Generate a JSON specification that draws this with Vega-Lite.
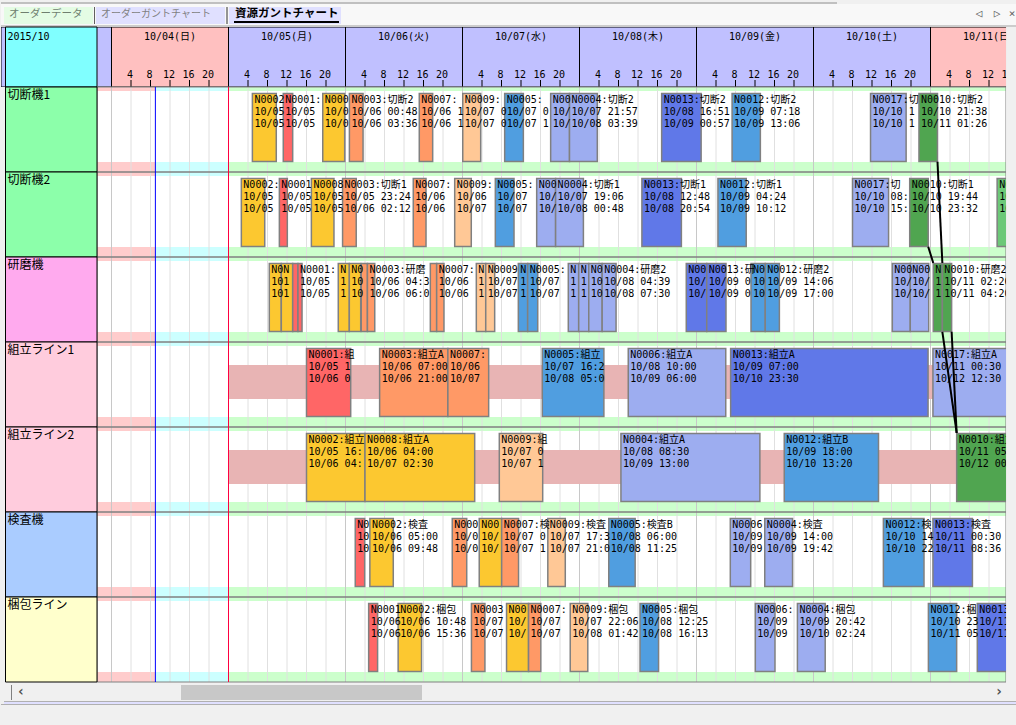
{
  "$schema": "https://vega.github.io/schema/vega-lite/v6.json",
  "padding": 0,
  "spacing": 0,
  "bounds": "flush",
  "background": "#f0f0f0",
  "config": {
    "view": {"stroke": null},
    "axis": {"disable": true},
    "legend": {"disable": true},
    "text": {"font": "DejaVu Sans Mono, Noto Sans CJK JP", "fontSize": 10, "color": "#000000"}
  },
  "datasets": {
    "lanes": [
      {"resource": "切断機1"}, {"resource": "切断機2"}, {"resource": "研磨機"}, {"resource": "組立ライン1"},
      {"resource": "組立ライン2"}, {"resource": "検査機"}, {"resource": "梱包ライン"}
    ],
    "assembly": [{"resource": "組立ライン1"}, {"resource": "組立ライン2"}],
    "calendar": [
      {"resource": "切断機1", "kind": "holiday", "from": "2015-10-03T21:01:33", "to": "2015-10-04T09:00"},
      {"resource": "切断機1", "kind": "off", "from": "2015-10-04T09:00", "to": "2015-10-05T00:00"},
      {"resource": "切断機1", "kind": "work", "from": "2015-10-05T00:00", "to": "2015-10-11T15:29:14"},
      {"resource": "切断機2", "kind": "holiday", "from": "2015-10-03T21:01:33", "to": "2015-10-04T09:00"},
      {"resource": "切断機2", "kind": "off", "from": "2015-10-04T09:00", "to": "2015-10-05T00:00"},
      {"resource": "切断機2", "kind": "work", "from": "2015-10-05T00:00", "to": "2015-10-11T15:29:14"},
      {"resource": "研磨機", "kind": "holiday", "from": "2015-10-03T21:01:33", "to": "2015-10-04T09:00"},
      {"resource": "研磨機", "kind": "off", "from": "2015-10-04T09:00", "to": "2015-10-05T00:00"},
      {"resource": "研磨機", "kind": "work", "from": "2015-10-05T00:00", "to": "2015-10-11T15:29:14"},
      {"resource": "組立ライン1", "kind": "holiday", "from": "2015-10-03T21:01:33", "to": "2015-10-04T09:00"},
      {"resource": "組立ライン1", "kind": "off", "from": "2015-10-04T09:00", "to": "2015-10-05T00:00"},
      {"resource": "組立ライン1", "kind": "work", "from": "2015-10-05T00:00", "to": "2015-10-11T15:29:14"},
      {"resource": "組立ライン2", "kind": "holiday", "from": "2015-10-03T21:01:33", "to": "2015-10-04T09:00"},
      {"resource": "組立ライン2", "kind": "off", "from": "2015-10-04T09:00", "to": "2015-10-05T00:00"},
      {"resource": "組立ライン2", "kind": "work", "from": "2015-10-05T00:00", "to": "2015-10-11T15:29:14"},
      {"resource": "検査機", "kind": "holiday", "from": "2015-10-03T21:01:33", "to": "2015-10-04T09:00"},
      {"resource": "検査機", "kind": "off", "from": "2015-10-04T09:00", "to": "2015-10-05T00:00"},
      {"resource": "検査機", "kind": "work", "from": "2015-10-05T00:00", "to": "2015-10-11T15:29:14"},
      {"resource": "梱包ライン", "kind": "holiday", "from": "2015-10-03T21:01:33", "to": "2015-10-04T09:00"},
      {"resource": "梱包ライン", "kind": "off", "from": "2015-10-04T09:00", "to": "2015-10-05T00:00"},
      {"resource": "梱包ライン", "kind": "work", "from": "2015-10-05T00:00", "to": "2015-10-11T15:29:14"}
    ],
    "days": [
      {"from": "2015-10-03T01:20:00", "to": "2015-10-04T00:00", "noon": "2015-10-03T12:00", "label": "", "kind": "weekday"},
      {"from": "2015-10-04T00:00", "to": "2015-10-05T00:00", "noon": "2015-10-04T12:00", "label": "10/04(日)", "kind": "sunday"},
      {"from": "2015-10-05T00:00", "to": "2015-10-06T00:00", "noon": "2015-10-05T12:00", "label": "10/05(月)", "kind": "weekday"},
      {"from": "2015-10-06T00:00", "to": "2015-10-07T00:00", "noon": "2015-10-06T12:00", "label": "10/06(火)", "kind": "weekday"},
      {"from": "2015-10-07T00:00", "to": "2015-10-08T00:00", "noon": "2015-10-07T12:00", "label": "10/07(水)", "kind": "weekday"},
      {"from": "2015-10-08T00:00", "to": "2015-10-09T00:00", "noon": "2015-10-08T12:00", "label": "10/08(木)", "kind": "weekday"},
      {"from": "2015-10-09T00:00", "to": "2015-10-10T00:00", "noon": "2015-10-09T12:00", "label": "10/09(金)", "kind": "weekday"},
      {"from": "2015-10-10T00:00", "to": "2015-10-11T00:00", "noon": "2015-10-10T12:00", "label": "10/10(土)", "kind": "weekday"},
      {"from": "2015-10-11T00:00", "to": "2015-10-12T00:00", "noon": "2015-10-11T12:00", "label": "10/11(日)", "kind": "sunday"}
    ],
    "hours": [
      {"time": "2015-10-04T04:00", "hour": "4"}, {"time": "2015-10-04T08:00", "hour": "8"}, {"time": "2015-10-04T12:00", "hour": "12"}, {"time": "2015-10-04T16:00", "hour": "16"}, {"time": "2015-10-04T20:00", "hour": "20"},
      {"time": "2015-10-05T04:00", "hour": "4"}, {"time": "2015-10-05T08:00", "hour": "8"}, {"time": "2015-10-05T12:00", "hour": "12"}, {"time": "2015-10-05T16:00", "hour": "16"}, {"time": "2015-10-05T20:00", "hour": "20"},
      {"time": "2015-10-06T04:00", "hour": "4"}, {"time": "2015-10-06T08:00", "hour": "8"}, {"time": "2015-10-06T12:00", "hour": "12"}, {"time": "2015-10-06T16:00", "hour": "16"}, {"time": "2015-10-06T20:00", "hour": "20"},
      {"time": "2015-10-07T04:00", "hour": "4"}, {"time": "2015-10-07T08:00", "hour": "8"}, {"time": "2015-10-07T12:00", "hour": "12"}, {"time": "2015-10-07T16:00", "hour": "16"}, {"time": "2015-10-07T20:00", "hour": "20"},
      {"time": "2015-10-08T04:00", "hour": "4"}, {"time": "2015-10-08T08:00", "hour": "8"}, {"time": "2015-10-08T12:00", "hour": "12"}, {"time": "2015-10-08T16:00", "hour": "16"}, {"time": "2015-10-08T20:00", "hour": "20"},
      {"time": "2015-10-09T04:00", "hour": "4"}, {"time": "2015-10-09T08:00", "hour": "8"}, {"time": "2015-10-09T12:00", "hour": "12"}, {"time": "2015-10-09T16:00", "hour": "16"}, {"time": "2015-10-09T20:00", "hour": "20"},
      {"time": "2015-10-10T04:00", "hour": "4"}, {"time": "2015-10-10T08:00", "hour": "8"}, {"time": "2015-10-10T12:00", "hour": "12"}, {"time": "2015-10-10T16:00", "hour": "16"}, {"time": "2015-10-10T20:00", "hour": "20"},
      {"time": "2015-10-11T04:00", "hour": "4"}, {"time": "2015-10-11T08:00", "hour": "8"}, {"time": "2015-10-11T12:00", "hour": "12"}, {"time": "2015-10-11T16:00", "hour": "16"}
    ],
    "markers": [
      {"time": "2015-10-04T09:00", "kind": "start"},
      {"time": "2015-10-05T00:00", "kind": "today"}
    ],
    "links": [
      {"from": "2015-10-11T01:26", "to": "2015-10-11T02:26", "source": "切断機1", "target": "研磨機"},
      {"from": "2015-10-10T23:32", "to": "2015-10-11T00:34", "source": "切断機2", "target": "研磨機"},
      {"from": "2015-10-11T02:26", "to": "2015-10-11T05:22", "source": "研磨機", "target": "組立ライン2"},
      {"from": "2015-10-11T04:20", "to": "2015-10-11T05:22", "source": "研磨機", "target": "組立ライン2"}
    ],
    "tasks": [
      {"resource": "切断機1", "order": "N0002", "start": "2015-10-05T04:54", "end": "2015-10-05T09:48", "label": "N0002\n10/05\n10/05"},
      {"resource": "切断機1", "order": "N0001", "start": "2015-10-05T11:14", "end": "2015-10-05T13:10", "label": "N0001:\n10/05\n10/05"},
      {"resource": "切断機1", "order": "N0008", "start": "2015-10-05T19:20", "end": "2015-10-05T23:50", "label": "N000\n10/0\n10/0"},
      {"resource": "切断機1", "order": "N0003", "start": "2015-10-06T00:48", "end": "2015-10-06T03:36", "label": "N0003:切断2\n10/06 00:48\n10/06 03:36"},
      {"resource": "切断機1", "order": "N0007", "start": "2015-10-06T15:08", "end": "2015-10-06T17:53", "label": "N0007:\n10/06 1\n10/06 1"},
      {"resource": "切断機1", "order": "N0009", "start": "2015-10-07T00:03", "end": "2015-10-07T03:44", "label": "N0009:\n10/07 0\n10/07 0"},
      {"resource": "切断機1", "order": "N0005", "start": "2015-10-07T08:39", "end": "2015-10-07T12:29", "label": "N0005:\n10/07 0\n10/07 1"},
      {"resource": "切断機1", "order": "N0006", "start": "2015-10-07T18:05", "end": "2015-10-07T21:57", "label": "N00\n10/\n10/"},
      {"resource": "切断機1", "order": "N0004", "start": "2015-10-07T21:57", "end": "2015-10-08T03:39", "label": "N0004:切断2\n10/07 21:57\n10/08 03:39"},
      {"resource": "切断機1", "order": "N0013", "start": "2015-10-08T16:51", "end": "2015-10-09T00:57", "label": "N0013:切断2\n10/08 16:51\n10/09 00:57"},
      {"resource": "切断機1", "order": "N0012", "start": "2015-10-09T07:18", "end": "2015-10-09T13:06", "label": "N0012:切断2\n10/09 07:18\n10/09 13:06"},
      {"resource": "切断機1", "order": "N0017", "start": "2015-10-10T11:42", "end": "2015-10-10T19:00", "label": "N0017:切\n10/10 1\n10/10 1"},
      {"resource": "切断機1", "order": "N0010", "start": "2015-10-10T21:38", "end": "2015-10-11T01:26", "label": "N0010:切断2\n10/10 21:38\n10/11 01:26"},

      {"resource": "切断機2", "order": "N0002", "start": "2015-10-05T02:38", "end": "2015-10-05T07:26", "label": "N0002:\n10/05\n10/05"},
      {"resource": "切断機2", "order": "N0001", "start": "2015-10-05T10:26", "end": "2015-10-05T12:04", "label": "N0001\n10/05\n10/05"},
      {"resource": "切断機2", "order": "N0008", "start": "2015-10-05T17:00", "end": "2015-10-05T21:38", "label": "N0008\n10/05\n10/05"},
      {"resource": "切断機2", "order": "N0003", "start": "2015-10-05T23:24", "end": "2015-10-06T02:12", "label": "N0003:切断1\n10/05 23:24\n10/06 02:12"},
      {"resource": "切断機2", "order": "N0007", "start": "2015-10-06T13:54", "end": "2015-10-06T16:31", "label": "N0007:\n10/06\n10/06"},
      {"resource": "切断機2", "order": "N0009", "start": "2015-10-06T22:24", "end": "2015-10-07T01:48", "label": "N0009:\n10/06\n10/07"},
      {"resource": "切断機2", "order": "N0005", "start": "2015-10-07T06:44", "end": "2015-10-07T10:34", "label": "N0005:\n10/07\n10/07"},
      {"resource": "切断機2", "order": "N0006", "start": "2015-10-07T15:13", "end": "2015-10-07T19:06", "label": "N00\n10/\n10/"},
      {"resource": "切断機2", "order": "N0004", "start": "2015-10-07T19:06", "end": "2015-10-08T00:48", "label": "N0004:切断1\n10/07 19:06\n10/08 00:48"},
      {"resource": "切断機2", "order": "N0013", "start": "2015-10-08T12:48", "end": "2015-10-08T20:54", "label": "N0013:切断1\n10/08 12:48\n10/08 20:54"},
      {"resource": "切断機2", "order": "N0012", "start": "2015-10-09T04:24", "end": "2015-10-09T10:12", "label": "N0012:切断1\n10/09 04:24\n10/09 10:12"},
      {"resource": "切断機2", "order": "N0017", "start": "2015-10-10T08:00", "end": "2015-10-10T15:24", "label": "N0017:切\n10/10 08:\n10/10 15:"},
      {"resource": "切断機2", "order": "N0010", "start": "2015-10-10T19:44", "end": "2015-10-10T23:32", "label": "N0010:切断1\n10/10 19:44\n10/10 23:32"},
      {"resource": "切断機2", "order": "N0011", "start": "2015-10-11T13:40", "end": "2015-10-11T17:00", "label": "N0\n10\n10"},

      {"resource": "研磨機", "order": "N0002", "start": "2015-10-05T08:22", "end": "2015-10-05T10:50", "label": "N0\n10\n10"},
      {"resource": "研磨機", "order": "N0002", "start": "2015-10-05T10:50", "end": "2015-10-05T13:10", "label": "N\n1\n1"},
      {"resource": "研磨機", "order": "N0001", "start": "2015-10-05T13:10", "end": "2015-10-05T14:15", "label": ""},
      {"resource": "研磨機", "order": "N0001", "start": "2015-10-05T14:15", "end": "2015-10-05T15:05", "label": "N0001:\n10/05\n10/05"},
      {"resource": "研磨機", "order": "N0008", "start": "2015-10-05T22:31", "end": "2015-10-06T00:47", "label": "N\n1\n1"},
      {"resource": "研磨機", "order": "N0008", "start": "2015-10-06T00:47", "end": "2015-10-06T03:07", "label": "N0\n10\n10"},
      {"resource": "研磨機", "order": "N0003", "start": "2015-10-06T03:14", "end": "2015-10-06T04:30", "label": ""},
      {"resource": "研磨機", "order": "N0003", "start": "2015-10-06T04:30", "end": "2015-10-06T06:00", "label": "N0003:研磨\n10/06 04:3\n10/06 06:0"},
      {"resource": "研磨機", "order": "N0007", "start": "2015-10-06T17:24", "end": "2015-10-06T18:42", "label": ""},
      {"resource": "研磨機", "order": "N0007", "start": "2015-10-06T18:42", "end": "2015-10-06T20:12", "label": "N0007:\n10/06\n10/06"},
      {"resource": "研磨機", "order": "N0009", "start": "2015-10-07T02:50", "end": "2015-10-07T04:46", "label": "N\n1\n1"},
      {"resource": "研磨機", "order": "N0009", "start": "2015-10-07T04:46", "end": "2015-10-07T06:36", "label": "N0009\n10/07\n10/07"},
      {"resource": "研磨機", "order": "N0005", "start": "2015-10-07T11:27", "end": "2015-10-07T13:22", "label": "N\n1\n1"},
      {"resource": "研磨機", "order": "N0005", "start": "2015-10-07T13:22", "end": "2015-10-07T15:26", "label": "N0005:\n10/07\n10/07"},
      {"resource": "研磨機", "order": "N0006", "start": "2015-10-07T21:42", "end": "2015-10-07T23:50", "label": "N\n1\n1"},
      {"resource": "研磨機", "order": "N0006", "start": "2015-10-07T23:50", "end": "2015-10-08T01:54", "label": "N\n1\n1"},
      {"resource": "研磨機", "order": "N0004", "start": "2015-10-08T01:54", "end": "2015-10-08T04:39", "label": "N0\n10\n10"},
      {"resource": "研磨機", "order": "N0004", "start": "2015-10-08T04:39", "end": "2015-10-08T07:30", "label": "N0004:研磨2\n10/08 04:39\n10/08 07:30"},
      {"resource": "研磨機", "order": "N0013", "start": "2015-10-08T21:54", "end": "2015-10-09T02:06", "label": "N00\n10/\n10/"},
      {"resource": "研磨機", "order": "N0013", "start": "2015-10-09T02:06", "end": "2015-10-09T06:03", "label": "N0013:研\n10/09 0\n10/09 0"},
      {"resource": "研磨機", "order": "N0012", "start": "2015-10-09T11:11", "end": "2015-10-09T14:06", "label": "N0\n10\n10"},
      {"resource": "研磨機", "order": "N0012", "start": "2015-10-09T14:06", "end": "2015-10-09T17:00", "label": "N0012:研磨2\n10/09 14:06\n10/09 17:00"},
      {"resource": "研磨機", "order": "N0017", "start": "2015-10-10T16:10", "end": "2015-10-10T19:51", "label": "N00\n10/\n10/"},
      {"resource": "研磨機", "order": "N0017", "start": "2015-10-10T19:51", "end": "2015-10-10T23:38", "label": "N00\n10/\n10/"},
      {"resource": "研磨機", "order": "N0010", "start": "2015-10-11T00:34", "end": "2015-10-11T02:26", "label": "N\n1\n1"},
      {"resource": "研磨機", "order": "N0010", "start": "2015-10-11T02:26", "end": "2015-10-11T04:20", "label": "N0010:研磨2\n10/11 02:26\n10/11 04:20"},

      {"resource": "組立ライン1", "order": "N0001", "start": "2015-10-05T16:00", "end": "2015-10-06T01:04", "label": "N0001:組\n10/05 1\n10/06 0"},
      {"resource": "組立ライン1", "order": "N0003", "start": "2015-10-06T07:00", "end": "2015-10-06T21:00", "label": "N0003:組立A\n10/06 07:00\n10/06 21:00"},
      {"resource": "組立ライン1", "order": "N0007", "start": "2015-10-06T21:00", "end": "2015-10-07T05:22", "label": "N0007:\n10/06\n10/07"},
      {"resource": "組立ライン1", "order": "N0005", "start": "2015-10-07T16:22", "end": "2015-10-08T05:00", "label": "N0005:組立\n10/07 16:2\n10/08 05:0"},
      {"resource": "組立ライン1", "order": "N0006", "start": "2015-10-08T10:00", "end": "2015-10-09T06:00", "label": "N0006:組立A\n10/08 10:00\n10/09 06:00"},
      {"resource": "組立ライン1", "order": "N0013", "start": "2015-10-09T07:00", "end": "2015-10-10T23:30", "label": "N0013:組立A\n10/09 07:00\n10/10 23:30"},
      {"resource": "組立ライン1", "order": "N0017", "start": "2015-10-11T00:30", "end": "2015-10-12T12:30", "label": "N0017:組立A\n10/11 00:30\n10/12 12:30"},

      {"resource": "組立ライン2", "order": "N0002", "start": "2015-10-05T16:00", "end": "2015-10-06T04:00", "label": "N0002:組立\n10/05 16:\n10/06 04:"},
      {"resource": "組立ライン2", "order": "N0008", "start": "2015-10-06T04:00", "end": "2015-10-07T02:30", "label": "N0008:組立A\n10/06 04:00\n10/07 02:30"},
      {"resource": "組立ライン2", "order": "N0009", "start": "2015-10-07T07:33", "end": "2015-10-07T16:27", "label": "N0009:組\n10/07 0\n10/07 1"},
      {"resource": "組立ライン2", "order": "N0004", "start": "2015-10-08T08:30", "end": "2015-10-09T13:00", "label": "N0004:組立A\n10/08 08:30\n10/09 13:00"},
      {"resource": "組立ライン2", "order": "N0012", "start": "2015-10-09T18:00", "end": "2015-10-10T13:20", "label": "N0012:組立B\n10/09 18:00\n10/10 13:20"},
      {"resource": "組立ライン2", "order": "N0010", "start": "2015-10-11T05:22", "end": "2015-10-12T00:10", "label": "N0010:組立\n10/11 05\n10/12 00"},

      {"resource": "検査機", "order": "N0001", "start": "2015-10-06T02:00", "end": "2015-10-06T03:56", "label": "N0\n10\n10"},
      {"resource": "検査機", "order": "N0002", "start": "2015-10-06T05:00", "end": "2015-10-06T09:48", "label": "N0002:検査\n10/06 05:00\n10/06 09:48"},
      {"resource": "検査機", "order": "N0003", "start": "2015-10-06T21:54", "end": "2015-10-07T00:52", "label": "N000\n10/0\n10/0"},
      {"resource": "検査機", "order": "N0008", "start": "2015-10-07T03:26", "end": "2015-10-07T08:02", "label": "N00\n10/\n10/"},
      {"resource": "検査機", "order": "N0007", "start": "2015-10-07T08:02", "end": "2015-10-07T11:30", "label": "N0007:検\n10/07 0\n10/07 1"},
      {"resource": "検査機", "order": "N0009", "start": "2015-10-07T17:30", "end": "2015-10-07T21:05", "label": "N0009:検査\n10/07 17:3\n10/07 21:0"},
      {"resource": "検査機", "order": "N0005", "start": "2015-10-08T06:00", "end": "2015-10-08T11:25", "label": "N0005:検査B\n10/08 06:00\n10/08 11:25"},
      {"resource": "検査機", "order": "N0006", "start": "2015-10-09T06:56", "end": "2015-10-09T11:07", "label": "N0006\n10/09\n10/09"},
      {"resource": "検査機", "order": "N0004", "start": "2015-10-09T14:00", "end": "2015-10-09T19:42", "label": "N0004:検査\n10/09 14:00\n10/09 19:42"},
      {"resource": "検査機", "order": "N0012", "start": "2015-10-10T14:20", "end": "2015-10-10T22:40", "label": "N0012:検\n10/10 14\n10/10 22"},
      {"resource": "検査機", "order": "N0013", "start": "2015-10-11T00:30", "end": "2015-10-11T08:36", "label": "N0013:検査\n10/11 00:30\n10/11 08:36"},

      {"resource": "梱包ライン", "order": "N0001", "start": "2015-10-06T04:45", "end": "2015-10-06T06:35", "label": "N0001\n10/06\n10/06"},
      {"resource": "梱包ライン", "order": "N0002", "start": "2015-10-06T10:48", "end": "2015-10-06T15:36", "label": "N0002:梱包\n10/06 10:48\n10/06 15:36"},
      {"resource": "梱包ライン", "order": "N0003", "start": "2015-10-07T01:50", "end": "2015-10-07T04:36", "label": "N0003\n10/07\n10/07"},
      {"resource": "梱包ライン", "order": "N0008", "start": "2015-10-07T09:02", "end": "2015-10-07T13:33", "label": "N00\n10/\n10/"},
      {"resource": "梱包ライン", "order": "N0007", "start": "2015-10-07T13:33", "end": "2015-10-07T16:04", "label": "N0007:\n10/07\n10/07"},
      {"resource": "梱包ライン", "order": "N0009", "start": "2015-10-07T22:06", "end": "2015-10-08T01:42", "label": "N0009:梱包\n10/07 22:06\n10/08 01:42"},
      {"resource": "梱包ライン", "order": "N0005", "start": "2015-10-08T12:25", "end": "2015-10-08T16:13", "label": "N0005:梱包\n10/08 12:25\n10/08 16:13"},
      {"resource": "梱包ライン", "order": "N0006", "start": "2015-10-09T12:04", "end": "2015-10-09T16:06", "label": "N0006:\n10/09\n10/09"},
      {"resource": "梱包ライン", "order": "N0004", "start": "2015-10-09T20:42", "end": "2015-10-10T02:24", "label": "N0004:梱包\n10/09 20:42\n10/10 02:24"},
      {"resource": "梱包ライン", "order": "N0012", "start": "2015-10-10T23:34", "end": "2015-10-11T05:22", "label": "N0012:梱\n10/10 23\n10/11 05"},
      {"resource": "梱包ライン", "order": "N0013", "start": "2015-10-11T09:36", "end": "2015-10-11T17:30", "label": "N0013\n10/11\n10/11"}
    ]
  },
  "vconcat": [
    {
      "width": 1016,
      "height": 27,
      "layer": [
        {
          "data": {"values": [{"part": "panel"}]},
          "mark": {"type": "rect", "color": "#f8f8f8"},
          "encoding": {
            "x": {"datum": 0, "type": "quantitative", "scale": {"domain": [0, 1016], "nice": false, "zero": false}},
            "x2": {"datum": 1016},
            "y": {"datum": 4, "type": "quantitative", "scale": {"domain": [0, 27], "nice": false, "zero": false, "reverse": true}},
            "y2": {"datum": 25}
          }
        },
        {
          "data": {"values": [{"part": "top"}]},
          "mark": {"type": "rule", "color": "#c0c0c0", "strokeWidth": 2},
          "encoding": {"x": {"datum": 0, "type": "quantitative"}, "x2": {"datum": 836}, "y": {"datum": 3, "type": "quantitative"}}
        },
        {
          "data": {"values": [{"part": "base"}]},
          "mark": {"type": "rule", "color": "#a8a8a8", "strokeWidth": 1},
          "encoding": {"x": {"datum": 0, "type": "quantitative"}, "x2": {"datum": 1016}, "y": {"datum": 26, "type": "quantitative"}}
        },
        {
          "data": {"values": [{"part": "tab1"}]},
          "mark": {"type": "rect", "color": "#e4fce4"},
          "encoding": {"x": {"datum": 3, "type": "quantitative"}, "x2": {"datum": 92}, "y": {"datum": 7, "type": "quantitative"}, "y2": {"datum": 24}}
        },
        {
          "data": {"values": [{"part": "tab2"}]},
          "mark": {"type": "rect", "color": "#e0e0ff"},
          "encoding": {"x": {"datum": 95, "type": "quantitative"}, "x2": {"datum": 224}, "y": {"datum": 7, "type": "quantitative"}, "y2": {"datum": 24}}
        },
        {
          "data": {"values": [{"part": "tab3"}]},
          "mark": {"type": "rect", "color": "#e0e0ff"},
          "encoding": {"x": {"datum": 228, "type": "quantitative"}, "x2": {"datum": 340}, "y": {"datum": 7, "type": "quantitative"}, "y2": {"datum": 24}}
        },
        {
          "data": {"values": [{"part": "sep1"}]},
          "mark": {"type": "rule", "color": "#606060", "strokeWidth": 1},
          "encoding": {"x": {"datum": 93.5, "type": "quantitative"}, "y": {"datum": 7, "type": "quantitative"}, "y2": {"datum": 24}}
        },
        {
          "data": {"values": [{"part": "sep2"}]},
          "mark": {"type": "rule", "color": "#303030", "strokeWidth": 1},
          "encoding": {"x": {"datum": 226, "type": "quantitative"}, "y": {"datum": 7, "type": "quantitative"}, "y2": {"datum": 24}}
        },
        {
          "data": {"values": [{"part": "underline"}]},
          "mark": {"type": "rule", "color": "#000000", "strokeWidth": 2},
          "encoding": {"x": {"datum": 233, "type": "quantitative"}, "x2": {"datum": 338}, "y": {"datum": 22, "type": "quantitative"}}
        },
        {
          "data": {"values": [{"tab": "オーダーデータ"}]},
          "mark": {"type": "text", "align": "left", "font": "Noto Sans CJK JP", "fontSize": 10.5, "color": "#6f7f6f"},
          "encoding": {"x": {"datum": 8, "type": "quantitative"}, "y": {"datum": 14, "type": "quantitative"}, "text": {"field": "tab"}}
        },
        {
          "data": {"values": [{"tab": "オーダーガントチャート"}]},
          "mark": {"type": "text", "align": "left", "font": "Noto Sans CJK JP", "fontSize": 10, "color": "#7f7f7f"},
          "encoding": {"x": {"datum": 100, "type": "quantitative"}, "y": {"datum": 14, "type": "quantitative"}, "text": {"field": "tab"}}
        },
        {
          "data": {"values": [{"tab": "資源ガントチャート"}]},
          "mark": {"type": "text", "align": "left", "font": "Noto Sans CJK JP", "fontSize": 11.5, "fontWeight": "bold", "color": "#000000"},
          "encoding": {"x": {"datum": 234, "type": "quantitative"}, "y": {"datum": 14, "type": "quantitative"}, "text": {"field": "tab"}}
        },
        {
          "data": {"values": [{"nav": "◁"}]},
          "mark": {"type": "text", "fontSize": 11, "color": "#606060"},
          "encoding": {"x": {"datum": 978, "type": "quantitative"}, "y": {"datum": 13.5, "type": "quantitative"}, "text": {"field": "nav"}}
        },
        {
          "data": {"values": [{"nav": "▷"}]},
          "mark": {"type": "text", "fontSize": 11, "color": "#606060"},
          "encoding": {"x": {"datum": 996, "type": "quantitative"}, "y": {"datum": 13.5, "type": "quantitative"}, "text": {"field": "nav"}}
        },
        {
          "data": {"values": [{"nav": "×"}]},
          "mark": {"type": "text", "fontSize": 11, "color": "#606060"},
          "encoding": {"x": {"datum": 1011, "type": "quantitative"}, "y": {"datum": 13.5, "type": "quantitative"}, "text": {"field": "nav"}}
        }
      ]
    },
    {
      "width": 1016,
      "height": 60,
      "layer": [
        {
          "data": {"name": "days"},
          "mark": {"type": "rect", "stroke": "#000000", "strokeWidth": 1, "clip": true},
          "encoding": {
            "x": {"field": "from", "type": "temporal", "scale": {"domain": [{"year": 2015, "month": 10, "date": 3, "hours": 1, "minutes": 20, "seconds": 0}, {"year": 2015, "month": 10, "date": 11, "hours": 17, "minutes": 44, "seconds": 36}]}},
            "x2": {"field": "to"},
            "y": {"datum": 0, "type": "quantitative", "scale": {"domain": [0, 60], "nice": false, "zero": false, "reverse": true}},
            "y2": {"datum": 60},
            "color": {"field": "kind", "type": "nominal", "scale": {"domain": ["weekday", "sunday"], "range": ["#c0c0ff", "#ffc0c0"]}}
          }
        },
        {
          "data": {"name": "days"},
          "mark": {"type": "text", "clip": true},
          "encoding": {
            "x": {"field": "noon", "type": "temporal"},
            "y": {"datum": 9.5, "type": "quantitative"},
            "text": {"field": "label"}
          }
        },
        {
          "data": {"name": "hours"},
          "mark": {"type": "rule", "color": "#000000", "strokeWidth": 1},
          "encoding": {
            "x": {"field": "time", "type": "temporal"},
            "y": {"datum": 53, "type": "quantitative"},
            "y2": {"datum": 60}
          }
        },
        {
          "data": {"name": "hours"},
          "mark": {"type": "text", "dx": -1, "clip": true},
          "encoding": {
            "x": {"field": "time", "type": "temporal"},
            "y": {"datum": 47.5, "type": "quantitative"},
            "text": {"field": "hour"}
          }
        },
        {
          "data": {"values": [{"cell": "2015/10"}]},
          "mark": {"type": "rect", "color": "#80ffff", "stroke": "#000000", "strokeWidth": 1},
          "encoding": {
            "x": {"datum": {"year": 2015, "month": 10, "date": 3, "hours": 2, "minutes": 15, "seconds": 30}, "type": "temporal"},
            "x2": {"datum": {"year": 2015, "month": 10, "date": 3, "hours": 21, "minutes": 1, "seconds": 33}},
            "y": {"datum": 0, "type": "quantitative"},
            "y2": {"datum": 60}
          }
        },
        {
          "data": {"values": [{"cell": "2015/10"}]},
          "mark": {"type": "text", "align": "left"},
          "encoding": {
            "x": {"datum": {"year": 2015, "month": 10, "date": 3, "hours": 2, "minutes": 40}, "type": "temporal"},
            "y": {"datum": 9.5, "type": "quantitative"},
            "text": {"field": "cell"}
          }
        },
        {
          "data": {"values": [{"part": "margin"}]},
          "mark": {"type": "rect", "color": "#f0f0f0"},
          "encoding": {
            "x": {"datum": {"year": 2015, "month": 10, "date": 11, "hours": 15, "minutes": 29, "seconds": 50}, "type": "temporal"},
            "x2": {"datum": {"year": 2015, "month": 10, "date": 11, "hours": 17, "minutes": 44, "seconds": 36}},
            "y": {"datum": 0, "type": "quantitative"},
            "y2": {"datum": 60}
          }
        }
      ]
    },
    {
      "width": 1016,
      "height": 595,
      "resolve": {"scale": {"color": "independent"}},
      "layer": [
        {
          "data": {"name": "lanes"},
          "mark": {"type": "rect", "color": "#ffffff"},
          "encoding": {
            "x": {"datum": {"year": 2015, "month": 10, "date": 3, "hours": 21, "minutes": 1, "seconds": 33}, "type": "temporal", "scale": {"domain": [{"year": 2015, "month": 10, "date": 3, "hours": 1, "minutes": 20, "seconds": 0}, {"year": 2015, "month": 10, "date": 11, "hours": 17, "minutes": 44, "seconds": 36}]}},
            "x2": {"datum": {"year": 2015, "month": 10, "date": 11, "hours": 15, "minutes": 29, "seconds": 14}},
            "y": {"field": "resource", "type": "nominal", "scale": {"type": "band", "domain": ["切断機1", "切断機2", "研磨機", "組立ライン1", "組立ライン2", "検査機", "梱包ライン"], "paddingInner": 0, "paddingOuter": 0}}
          }
        },
        {
          "data": {"name": "calendar"},
          "mark": {"type": "bar", "height": 4, "yOffset": -40.5},
          "encoding": {
            "x": {"field": "from", "type": "temporal"},
            "x2": {"field": "to"},
            "y": {"field": "resource", "type": "nominal"},
            "color": {"field": "kind", "type": "nominal", "scale": {"domain": ["holiday", "off", "work"], "range": ["#ffcccc", "#ccffff", "#ccffcc"]}}
          }
        },
        {
          "data": {"name": "calendar"},
          "mark": {"type": "bar", "height": 10, "yOffset": 37.5},
          "encoding": {
            "x": {"field": "from", "type": "temporal"},
            "x2": {"field": "to"},
            "y": {"field": "resource", "type": "nominal"},
            "color": {"field": "kind", "type": "nominal", "scale": {"domain": ["holiday", "off", "work"], "range": ["#ffcccc", "#ccffff", "#ccffcc"]}}
          }
        },
        {
          "data": {"name": "hours"},
          "mark": {"type": "rule", "color": "#e0e0e0", "strokeWidth": 1},
          "encoding": {"x": {"field": "time", "type": "temporal"}}
        },
        {
          "data": {"name": "days"},
          "transform": [{"filter": "datum.label != ''"}],
          "mark": {"type": "rule", "color": "#c8c8c8", "strokeWidth": 1},
          "encoding": {"x": {"field": "from", "type": "temporal"}}
        },
        {
          "data": {"name": "assembly"},
          "mark": {"type": "bar", "height": 34, "yOffset": -2.5, "color": "#e8b4b4"},
          "encoding": {
            "x": {"datum": {"year": 2015, "month": 10, "date": 5}, "type": "temporal"},
            "x2": {"datum": {"year": 2015, "month": 10, "date": 11, "hours": 15, "minutes": 29, "seconds": 14}},
            "y": {"field": "resource", "type": "nominal"}
          }
        },
        {
          "data": {"name": "lanes"},
          "mark": {"type": "rect", "fillOpacity": 0, "stroke": "#808080", "strokeWidth": 1},
          "encoding": {
            "x": {"datum": {"year": 2015, "month": 10, "date": 3, "hours": 21, "minutes": 1, "seconds": 33}, "type": "temporal"},
            "x2": {"datum": {"year": 2015, "month": 10, "date": 11, "hours": 15, "minutes": 29, "seconds": 14}},
            "y": {"field": "resource", "type": "nominal"}
          }
        },
        {
          "data": {"name": "markers"},
          "transform": [{"filter": "datum.kind == 'start'"}],
          "mark": {"type": "rule", "strokeWidth": 1, "color": "#0000ff"},
          "encoding": {"x": {"field": "time", "type": "temporal"}}
        },
        {
          "data": {"name": "markers"},
          "transform": [{"filter": "datum.kind == 'today'"}],
          "mark": {"type": "rule", "strokeWidth": 1, "color": "#ff0040"},
          "encoding": {"x": {"field": "time", "type": "temporal"}}
        },
        {
          "data": {"name": "tasks"},
          "mark": {"type": "bar", "height": 68, "yOffset": -2, "stroke": "#808080", "strokeWidth": 1.5, "clip": true},
          "encoding": {
            "x": {"field": "start", "type": "temporal"},
            "x2": {"field": "end"},
            "y": {"field": "resource", "type": "nominal"},
            "color": {
              "field": "order",
              "type": "nominal",
              "scale": {
                "domain": ["N0001", "N0002", "N0003", "N0004", "N0005", "N0006", "N0007", "N0008", "N0009", "N0010", "N0011", "N0012", "N0013", "N0017"],
                "range": ["#ff6666", "#fcc830", "#ff9966", "#9dadf0", "#509ee0", "#9dadf0", "#ff9966", "#fcc830", "#ffc896", "#50a550", "#6cc878", "#509ee0", "#6078e8", "#9dadf0"]
              }
            }
          }
        },
        {
          "data": {"name": "tasks"},
          "mark": {"type": "text", "align": "left", "baseline": "top", "lineBreak": "\n", "lineHeight": 12, "dx": 2, "dy": 8},
          "encoding": {
            "x": {"field": "start", "type": "temporal"},
            "y": {"field": "resource", "type": "nominal", "bandPosition": 0},
            "text": {"field": "label"}
          }
        },
        {
          "data": {"name": "links"},
          "mark": {"type": "rule", "color": "#000000", "strokeWidth": 2},
          "encoding": {
            "x": {"field": "from", "type": "temporal"},
            "x2": {"field": "to"},
            "y": {"field": "source", "type": "nominal", "bandPosition": 0.88},
            "y2": {"field": "target", "bandPosition": 0.07}
          }
        },
        {
          "data": {"name": "lanes"},
          "mark": {"type": "rect", "stroke": "#000000", "strokeWidth": 1},
          "encoding": {
            "x": {"datum": {"year": 2015, "month": 10, "date": 3, "hours": 2, "minutes": 15, "seconds": 30}, "type": "temporal"},
            "x2": {"datum": {"year": 2015, "month": 10, "date": 3, "hours": 21, "minutes": 1, "seconds": 33}},
            "y": {"field": "resource", "type": "nominal"},
            "color": {
              "field": "resource",
              "type": "nominal",
              "scale": {
                "domain": ["切断機1", "切断機2", "研磨機", "組立ライン1", "組立ライン2", "検査機", "梱包ライン"],
                "range": ["#8cffaa", "#8cffaa", "#ffaaee", "#ffccdd", "#ffccdd", "#aaccff", "#ffffcc"]
              }
            }
          }
        },
        {
          "data": {"name": "lanes"},
          "mark": {"type": "text", "align": "left", "baseline": "top", "font": "Noto Sans CJK JP", "fontSize": 12, "dy": 3},
          "encoding": {
            "x": {"datum": {"year": 2015, "month": 10, "date": 3, "hours": 2, "minutes": 40}, "type": "temporal"},
            "y": {"field": "resource", "type": "nominal", "bandPosition": 0},
            "text": {"field": "resource"}
          }
        },
        {
          "data": {"values": [{"part": "margin"}]},
          "mark": {"type": "rect", "color": "#f0f0f0"},
          "encoding": {
            "x": {"datum": {"year": 2015, "month": 10, "date": 11, "hours": 15, "minutes": 29, "seconds": 50}, "type": "temporal"},
            "x2": {"datum": {"year": 2015, "month": 10, "date": 11, "hours": 17, "minutes": 44, "seconds": 36}}
          }
        }
      ]
    },
    {
      "width": 1016,
      "height": 43,
      "layer": [
        {
          "data": {"values": [{"part": "thumb"}]},
          "mark": {"type": "rect", "color": "#c8c8c8"},
          "encoding": {
            "x": {"datum": 180, "type": "quantitative", "scale": {"domain": [0, 1016], "nice": false, "zero": false}},
            "x2": {"datum": 421},
            "y": {"datum": 3, "type": "quantitative", "scale": {"domain": [0, 43], "nice": false, "zero": false, "reverse": true}},
            "y2": {"datum": 18}
          }
        },
        {
          "data": {"values": [{"part": "grip"}]},
          "mark": {"type": "rule", "color": "#808080", "strokeWidth": 1},
          "encoding": {"x": {"datum": 10.5, "type": "quantitative"}, "y": {"datum": 3, "type": "quantitative"}, "y2": {"datum": 18}}
        },
        {
          "data": {"values": [{"part": "line1"}]},
          "mark": {"type": "rule", "color": "#b0b0b0", "strokeWidth": 1},
          "encoding": {"x": {"datum": 3, "type": "quantitative"}, "x2": {"datum": 1016}, "y": {"datum": 19.5, "type": "quantitative"}}
        },
        {
          "data": {"values": [{"part": "line2"}]},
          "mark": {"type": "rule", "color": "#e0e0ff", "strokeWidth": 2},
          "encoding": {"x": {"datum": 3, "type": "quantitative"}, "x2": {"datum": 1016}, "y": {"datum": 21, "type": "quantitative"}}
        },
        {
          "data": {"values": [{"part": "line3"}]},
          "mark": {"type": "rule", "color": "#b0b0b0", "strokeWidth": 1},
          "encoding": {"x": {"datum": 0, "type": "quantitative"}, "x2": {"datum": 1016}, "y": {"datum": 22.5, "type": "quantitative"}}
        },
        {
          "data": {"values": [{"arrow": "‹"}]},
          "mark": {"type": "text", "fontSize": 14, "fontWeight": "bold", "color": "#505050"},
          "encoding": {"x": {"datum": 20, "type": "quantitative"}, "y": {"datum": 9.5, "type": "quantitative"}, "text": {"field": "arrow"}}
        },
        {
          "data": {"values": [{"arrow": "›"}]},
          "mark": {"type": "text", "fontSize": 14, "fontWeight": "bold", "color": "#505050"},
          "encoding": {"x": {"datum": 998, "type": "quantitative"}, "y": {"datum": 9.5, "type": "quantitative"}, "text": {"field": "arrow"}}
        }
      ]
    }
  ]
}
